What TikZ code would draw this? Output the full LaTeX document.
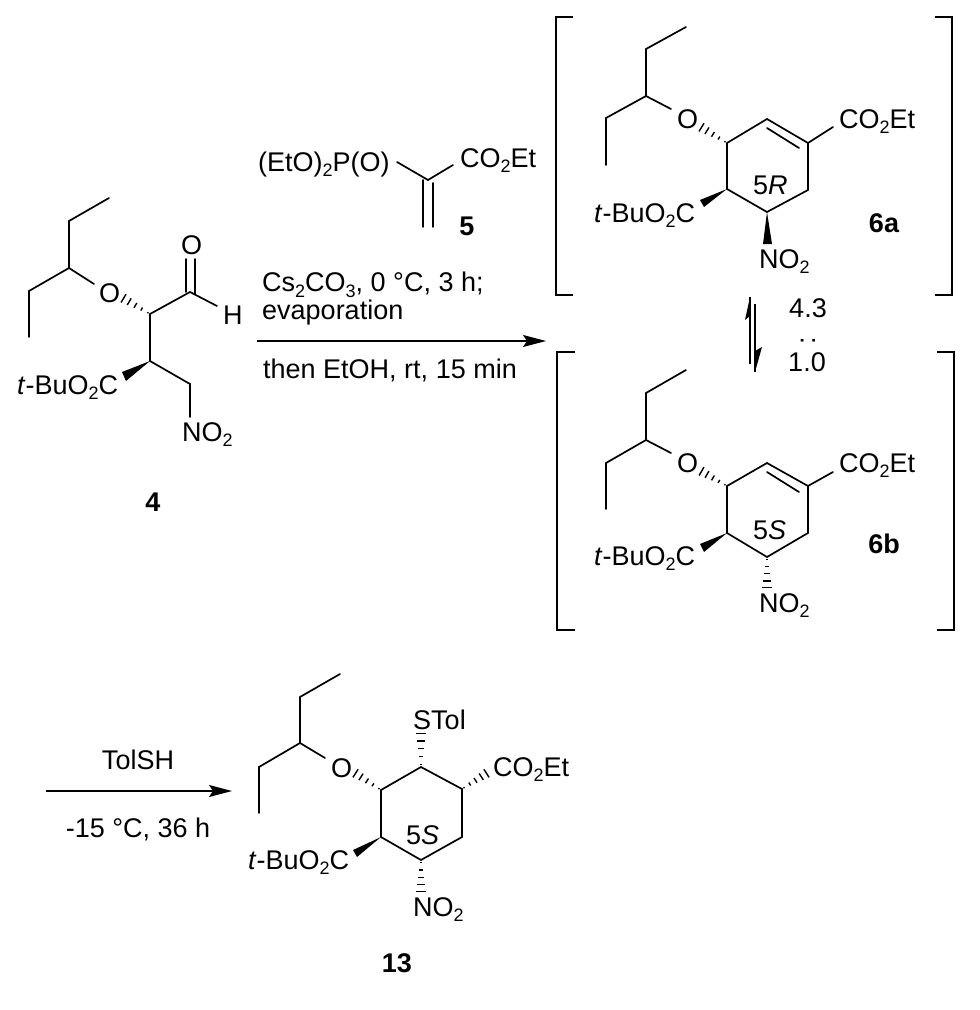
\documentclass[tikz,border=0pt]{standalone}
\usepackage{fontspec}
\setmainfont{Liberation Sans}
\usetikzlibrary{arrows.meta,calc}

\newcommand{\lowtext}[1]{\raisebox{-0.22em}{\fontsize{18}{18}\selectfont #1}}
\newcommand{\tbuester}{\textit{t}-BuO\lowtext{2}C}
\newcommand{\etester}{CO\lowtext{2}Et}
\newcommand{\nitro}{NO\lowtext{2}}
\newcommand{\hashbond}[2]{%
    \foreach \hpos in {0.08,0.31,0.54,0.77,0.98} {
        \pgfmathsetmacro\hwidth{0.3+\hpos*4.6}
        \draw[hashline] ($(#1)!\hpos!(#2)!\hwidth pt!90:(#2)$) -- ($(#1)!\hpos!(#2)!\hwidth pt!-90:(#2)$);
    }}

\tikzset{
    bond/.style={line width=1.7pt, line join=miter, line cap=round},
    hashline/.style={line width=1.4pt},
    bracket/.style={line width=1.8pt, line join=miter},
    rxnarrow/.style={line width=1.3pt, -{Stealth[length=23pt,width=12pt,inset=4pt]}},
    lbl/.style={anchor=base west, inner sep=0pt, font=\fontsize{27}{28}\selectfont},
    cmpd/.style={inner sep=0pt, font=\fontsize{27}{30}\selectfont\bfseries},
}

\begin{document}
\begin{tikzpicture}[x=1pt, y=-1pt]
    \useasboundingbox (0,0) rectangle (980,1010);

    % aldehyde 4
    \coordinate (d1) at (109,198);
    \coordinate (d2) at (69,221);
    \coordinate (d3) at (69,268);
    \coordinate (d4) at (29,291);
    \coordinate (d5) at (29,337);
    \coordinate (dO) at (94,284);
    \coordinate (dA) at (150,314);
    \coordinate (dB) at (150,361);
    \coordinate (dC) at (190,292);
    \coordinate (dH) at (217,306);
    \coordinate (dN) at (190,384);
    \coordinate (dM) at (190,417);
    \coordinate (dH1) at (123,298);
    \draw[bond] (d1) -- (d2) -- (d3) -- (d4) -- (d5);
    \draw[bond] (d3) -- (dO);
    \draw[bond] (dB) -- (dA) -- (dC) -- (dH);
    \draw[bond] (dB) -- (dN) -- (dM);
    \draw[bond] (186,292) -- (186,259);
    \draw[bond] (195,294) -- (195,259);
    \hashbond{dA}{dH1}
    \fill (dB) -- (122,372) -- (126,381) -- cycle;
    \node[lbl] (dOlab) at (99,302) {O};
    \node[lbl] (dOald) at (181,254) {O};
    \node[lbl] (dHlab) at (223,324) {H};
    \node[lbl] (dEst) at (17,394) {\tbuester};
    \node[lbl] (dNit) at (182,441) {\nitro};
    \node[cmpd] (cmpd4) at (153,502) {4};

    % phosphonate 5
    \coordinate (f1) at (397,162);
    \coordinate (f2) at (428,180);
    \coordinate (f3) at (453,165);
    \draw[bond] (f1) -- (f2) -- (f3);
    \draw[bond] (423,180) -- (423,227);
    \draw[bond] (433,183) -- (433,227);
    \node[lbl] (fP) at (258,171) {(EtO)\lowtext{2}P(O)};
    \node[lbl] (fEst) at (460,167) {\etester};
    \node[cmpd] (cmpd5) at (467,226) {5};

    % first arrow
    \coordinate (m1) at (257,341);
    \coordinate (m2) at (546,341);
    \draw[rxnarrow] (m1) -- (m2);
    \node[lbl, align=left, anchor=south west] (cond1) at (262,325) {Cs\lowtext{2}CO\lowtext{3}, 0 °C, 3 h;\\evaporation};
    \node[lbl] (cond3) at (263,378) {then EtOH, rt, 15 min};

    % diene 6a
    \draw[bracket] (573,17) -- (556,17) -- (556,295) -- (573,295);
    \draw[bracket] (935,17) -- (952,17) -- (952,295) -- (935,295);
    \coordinate (a1) at (686,27);
    \coordinate (a2) at (646,49);
    \coordinate (a3) at (646,96);
    \coordinate (a4) at (606,118);
    \coordinate (a5) at (606,165);
    \coordinate (aO) at (671,109);
    \coordinate (aH) at (701,127);
    \coordinate (r1) at (727,143);
    \coordinate (r2) at (767,119);
    \coordinate (r3) at (808,143);
    \coordinate (r4) at (808,190);
    \coordinate (r5) at (767,212);
    \coordinate (r6) at (727,189);
    \coordinate (aE) at (833,127);
    \draw[bond] (a1) -- (a2) -- (a3) -- (a4) -- (a5);
    \draw[bond] (a3) -- (aO);
    \draw[bond] (r1) -- (r2) -- (r3) -- (r4) -- (r5) -- (r6) -- cycle;
    \draw[bond] (767,128) -- (799,148);
    \draw[bond] (r3) -- (aE);
    \hashbond{r1}{aH}
    \fill (r6) -- (700,200) -- (704,207) -- cycle;
    \fill (r5) -- (763,244) -- (772,244) -- cycle;
    \node[lbl] (aOlab) at (677,128) {O};
    \node[lbl] (aEst) at (839,128) {\etester};
    \node[lbl] (aBu) at (594,222) {\tbuester};
    \node[lbl] (aNit) at (759,268) {\nitro};
    \node[lbl] (aCfg) at (753,194) {5\textit{R}};
    \node[cmpd] (cmpd6a) at (884,223) {6a};

    % equilibrium
    \coordinate (e1) at (750,364);
    \coordinate (e2) at (750,297);
    \coordinate (e3) at (755,304);
    \coordinate (e4) at (755,372);
    \draw[line width=1.3pt] (e1) -- (e2);
    \draw[line width=1.3pt] (e3) -- (e4);
    \fill (e2) -- (745,320) -- (750,316) -- cycle;
    \fill (e4) -- (762,347) -- (755,351) -- cycle;
    \node[lbl, anchor=center] (rA) at (808,308) {4.3};
    \node[lbl, anchor=center, rotate=90] (rC) at (808,341) {:};
    \node[lbl, anchor=center] (rB) at (807,362) {1.0};

    % diene 6b
    \draw[bracket] (575,352) -- (557,352) -- (557,630) -- (575,630);
    \draw[bracket] (937,352) -- (954,352) -- (954,630) -- (937,630);
    \coordinate (b1) at (686,370);
    \coordinate (b2) at (646,393);
    \coordinate (b3) at (646,440);
    \coordinate (b4) at (606,463);
    \coordinate (b5) at (606,509);
    \coordinate (bO) at (671,453);
    \coordinate (bH) at (701,471);
    \coordinate (s1) at (727,486);
    \coordinate (s2) at (767,463);
    \coordinate (s3) at (808,486);
    \coordinate (s4) at (808,533);
    \coordinate (s5) at (767,557);
    \coordinate (s6) at (727,533);
    \coordinate (bE) at (833,472);
    \coordinate (bN) at (767,588);
    \draw[bond] (b1) -- (b2) -- (b3) -- (b4) -- (b5);
    \draw[bond] (b3) -- (bO);
    \draw[bond] (s1) -- (s2) -- (s3) -- (s4) -- (s5) -- (s6) -- cycle;
    \draw[bond] (767,472) -- (799,492);
    \draw[bond] (s3) -- (bE);
    \hashbond{s1}{bH}
    \hashbond{s5}{bN}
    \fill (s6) -- (700,544) -- (704,552) -- cycle;
    \node[lbl] (bOlab) at (677,472) {O};
    \node[lbl] (bEst) at (839,472) {\etester};
    \node[lbl] (bBu) at (594,565) {\tbuester};
    \node[lbl] (bNit) at (759,612) {\nitro};
    \node[lbl] (bCfg) at (753,539) {5\textit{S}};
    \node[cmpd] (cmpd6b) at (884,544) {6b};

    % second arrow
    \coordinate (n1) at (46,791);
    \coordinate (n2) at (232,791);
    \draw[rxnarrow] (n1) -- (n2);
    \node[lbl, anchor=center] (thiol) at (138,760) {TolSH};
    \node[lbl, anchor=center] (temp) at (138,829) {-15 °C, 36 h};

    % adduct 13
    \coordinate (c1) at (340,674);
    \coordinate (c2) at (300,697);
    \coordinate (c3) at (300,743);
    \coordinate (c4) at (259,767);
    \coordinate (c5) at (259,813);
    \coordinate (cO) at (325,758);
    \coordinate (cH) at (355,773);
    \coordinate (t1) at (381,790);
    \coordinate (t2) at (421,767);
    \coordinate (t3) at (462,789);
    \coordinate (t4) at (462,837);
    \coordinate (t5) at (421,860);
    \coordinate (t6) at (381,837);
    \coordinate (cS) at (421,733);
    \coordinate (cE) at (487,773);
    \coordinate (cN) at (421,892);
    \draw[bond] (c1) -- (c2) -- (c3) -- (c4) -- (c5);
    \draw[bond] (c3) -- (cO);
    \draw[bond] (t1) -- (t2) -- (t3) -- (t4) -- (t5) -- (t6) -- cycle;
    \hashbond{t1}{cH}
    \hashbond{t2}{cS}
    \hashbond{t3}{cE}
    \hashbond{t5}{cN}
    \fill (t6) -- (353,850) -- (357,857) -- cycle;
    \node[lbl] (cOlab) at (331,777) {O};
    \node[lbl] (cTol) at (413,729) {STol};
    \node[lbl] (cEst) at (493,776) {\etester};
    \node[lbl] (cBu) at (248,869) {\tbuester};
    \node[lbl] (cNit) at (413,916) {\nitro};
    \node[lbl] (cCfg) at (406,844) {5\textit{S}};
    \node[cmpd] (cmpd13) at (397,963) {13};
\end{tikzpicture}
\end{document}
